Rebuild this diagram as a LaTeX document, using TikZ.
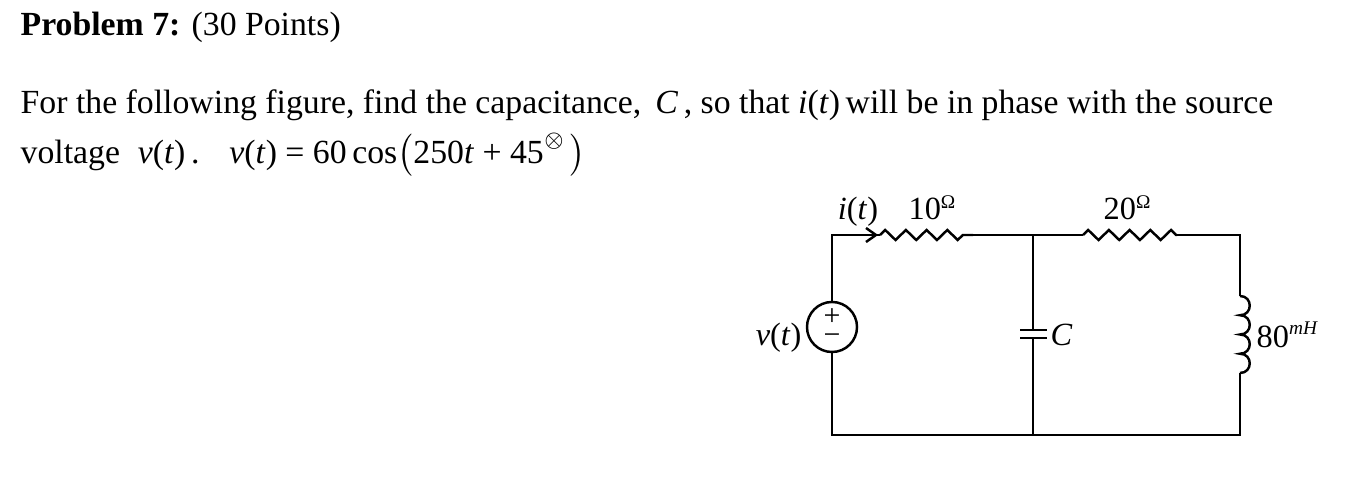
\documentclass[tikz,border=0pt]{standalone}
\usepackage{fontspec}
\setmainfont{Liberation Serif}
\usetikzlibrary{decorations.pathmorphing}
\begin{document}
\begin{tikzpicture}[x=0.01cm,y=-0.01cm,
  txt/.style={anchor=base west,inner sep=0pt,font=\fontsize{9.6}{11}\selectfont},
  lbl/.style={inner sep=0pt,font=\fontsize{9.2}{10}\selectfont},
  wire/.style={line width=0.7pt},
  res/.style={wire,decorate,decoration={zigzag,amplitude=0.05cm,segment length=0.207cm}}]
\useasboundingbox (0,0) rectangle (1357,504);
\node[txt] (t1) at (20,36) {\textbf{Problem 7:} (30 Points)};
\node[txt] (t2) at (20,114) {For the following figure, find the capacitance,\, \textit{C}\,, so that \textit{i}(\textit{t})\,will be in phase with the source};
\node[txt] (t3) at (20,164) {voltage \;\textit{v}(\textit{t})\,.\;\; \textit{v}(\textit{t}) = 60\,cos$\bigl($250\textit{t} + 45\raisebox{1.1ex}{\fontsize{6}{6}\selectfont$\otimes$}\,$\bigr)$};
% circuit coordinates
\coordinate (tl) at (832,235);
\coordinate (bl) at (832,435);
\coordinate (tm) at (1033,235);
\coordinate (bm) at (1033,435);
\coordinate (tr) at (1240,235);
\coordinate (br) at (1240,435);
\coordinate (r1a) at (880,235);
\coordinate (r1b) at (973,235);
\coordinate (r2a) at (1083,235);
\coordinate (r2b) at (1177,235);
\coordinate (ca) at (1033,330);
\coordinate (cb) at (1033,338);
\coordinate (la) at (1240,296);
\coordinate (lb) at (1240,373);
\node[circle,draw,wire,minimum size=0.5cm,inner sep=0pt] (src) at (832,327) {};
\node[lbl,font=\fontsize{8.5}{8.5}\selectfont] (plus) at (832,317) {+};
\node[lbl,font=\fontsize{8.5}{8.5}\selectfont] (minus) at (832,339) {\textminus};
\draw[wire] (src.north) -- (tl) -- (r1a);
\draw[res] (r1a) -- (r1b);
\draw[wire] (r1b) -- (tm) -- (r2a);
\draw[res] (r2a) -- (r2b);
\draw[wire] (r2b) -- (tr) -- (la);
\draw[wire] (src.south) -- (bl) -- (bm) -- (br) -- (lb);
\draw[wire] (la) .. controls (1253,296) and (1253,315.25) .. (1240,315.25)
  .. controls (1253,315.25) and (1253,334.5) .. (1240,334.5)
  .. controls (1253,334.5) and (1253,353.75) .. (1240,353.75)
  .. controls (1253,353.75) and (1253,373) .. (lb);
\draw[wire] (tm) -- (ca);
\draw[wire] (bm) -- (cb);
\draw[wire] (1020,330) -- (1047,330);
\draw[wire] (1020,338) -- (1047,338);
\draw[wire] (866,228) -- (876,235) -- (866,242);
\node[lbl,anchor=base] (il) at (858,220) {\textit{i}(\textit{t})};
\node[lbl,anchor=base] (r1l) at (932,220) {10\raisebox{0.8ex}{\fontsize{5.5}{5.5}\selectfont Ω}};
\node[lbl,anchor=base] (r2l) at (1127,220) {20\raisebox{0.8ex}{\fontsize{5.5}{5.5}\selectfont Ω}};
\node[lbl,anchor=base east] (vl) at (802,346) {\textit{v}(\textit{t})};
\node[lbl,anchor=base west] (cl) at (1050,346) {\textit{C}};
\node[lbl,anchor=base west] (ll) at (1256,348) {80\raisebox{0.9ex}{\fontsize{5.5}{5.5}\selectfont\textit{mH}}};
\end{tikzpicture}
\end{document}
